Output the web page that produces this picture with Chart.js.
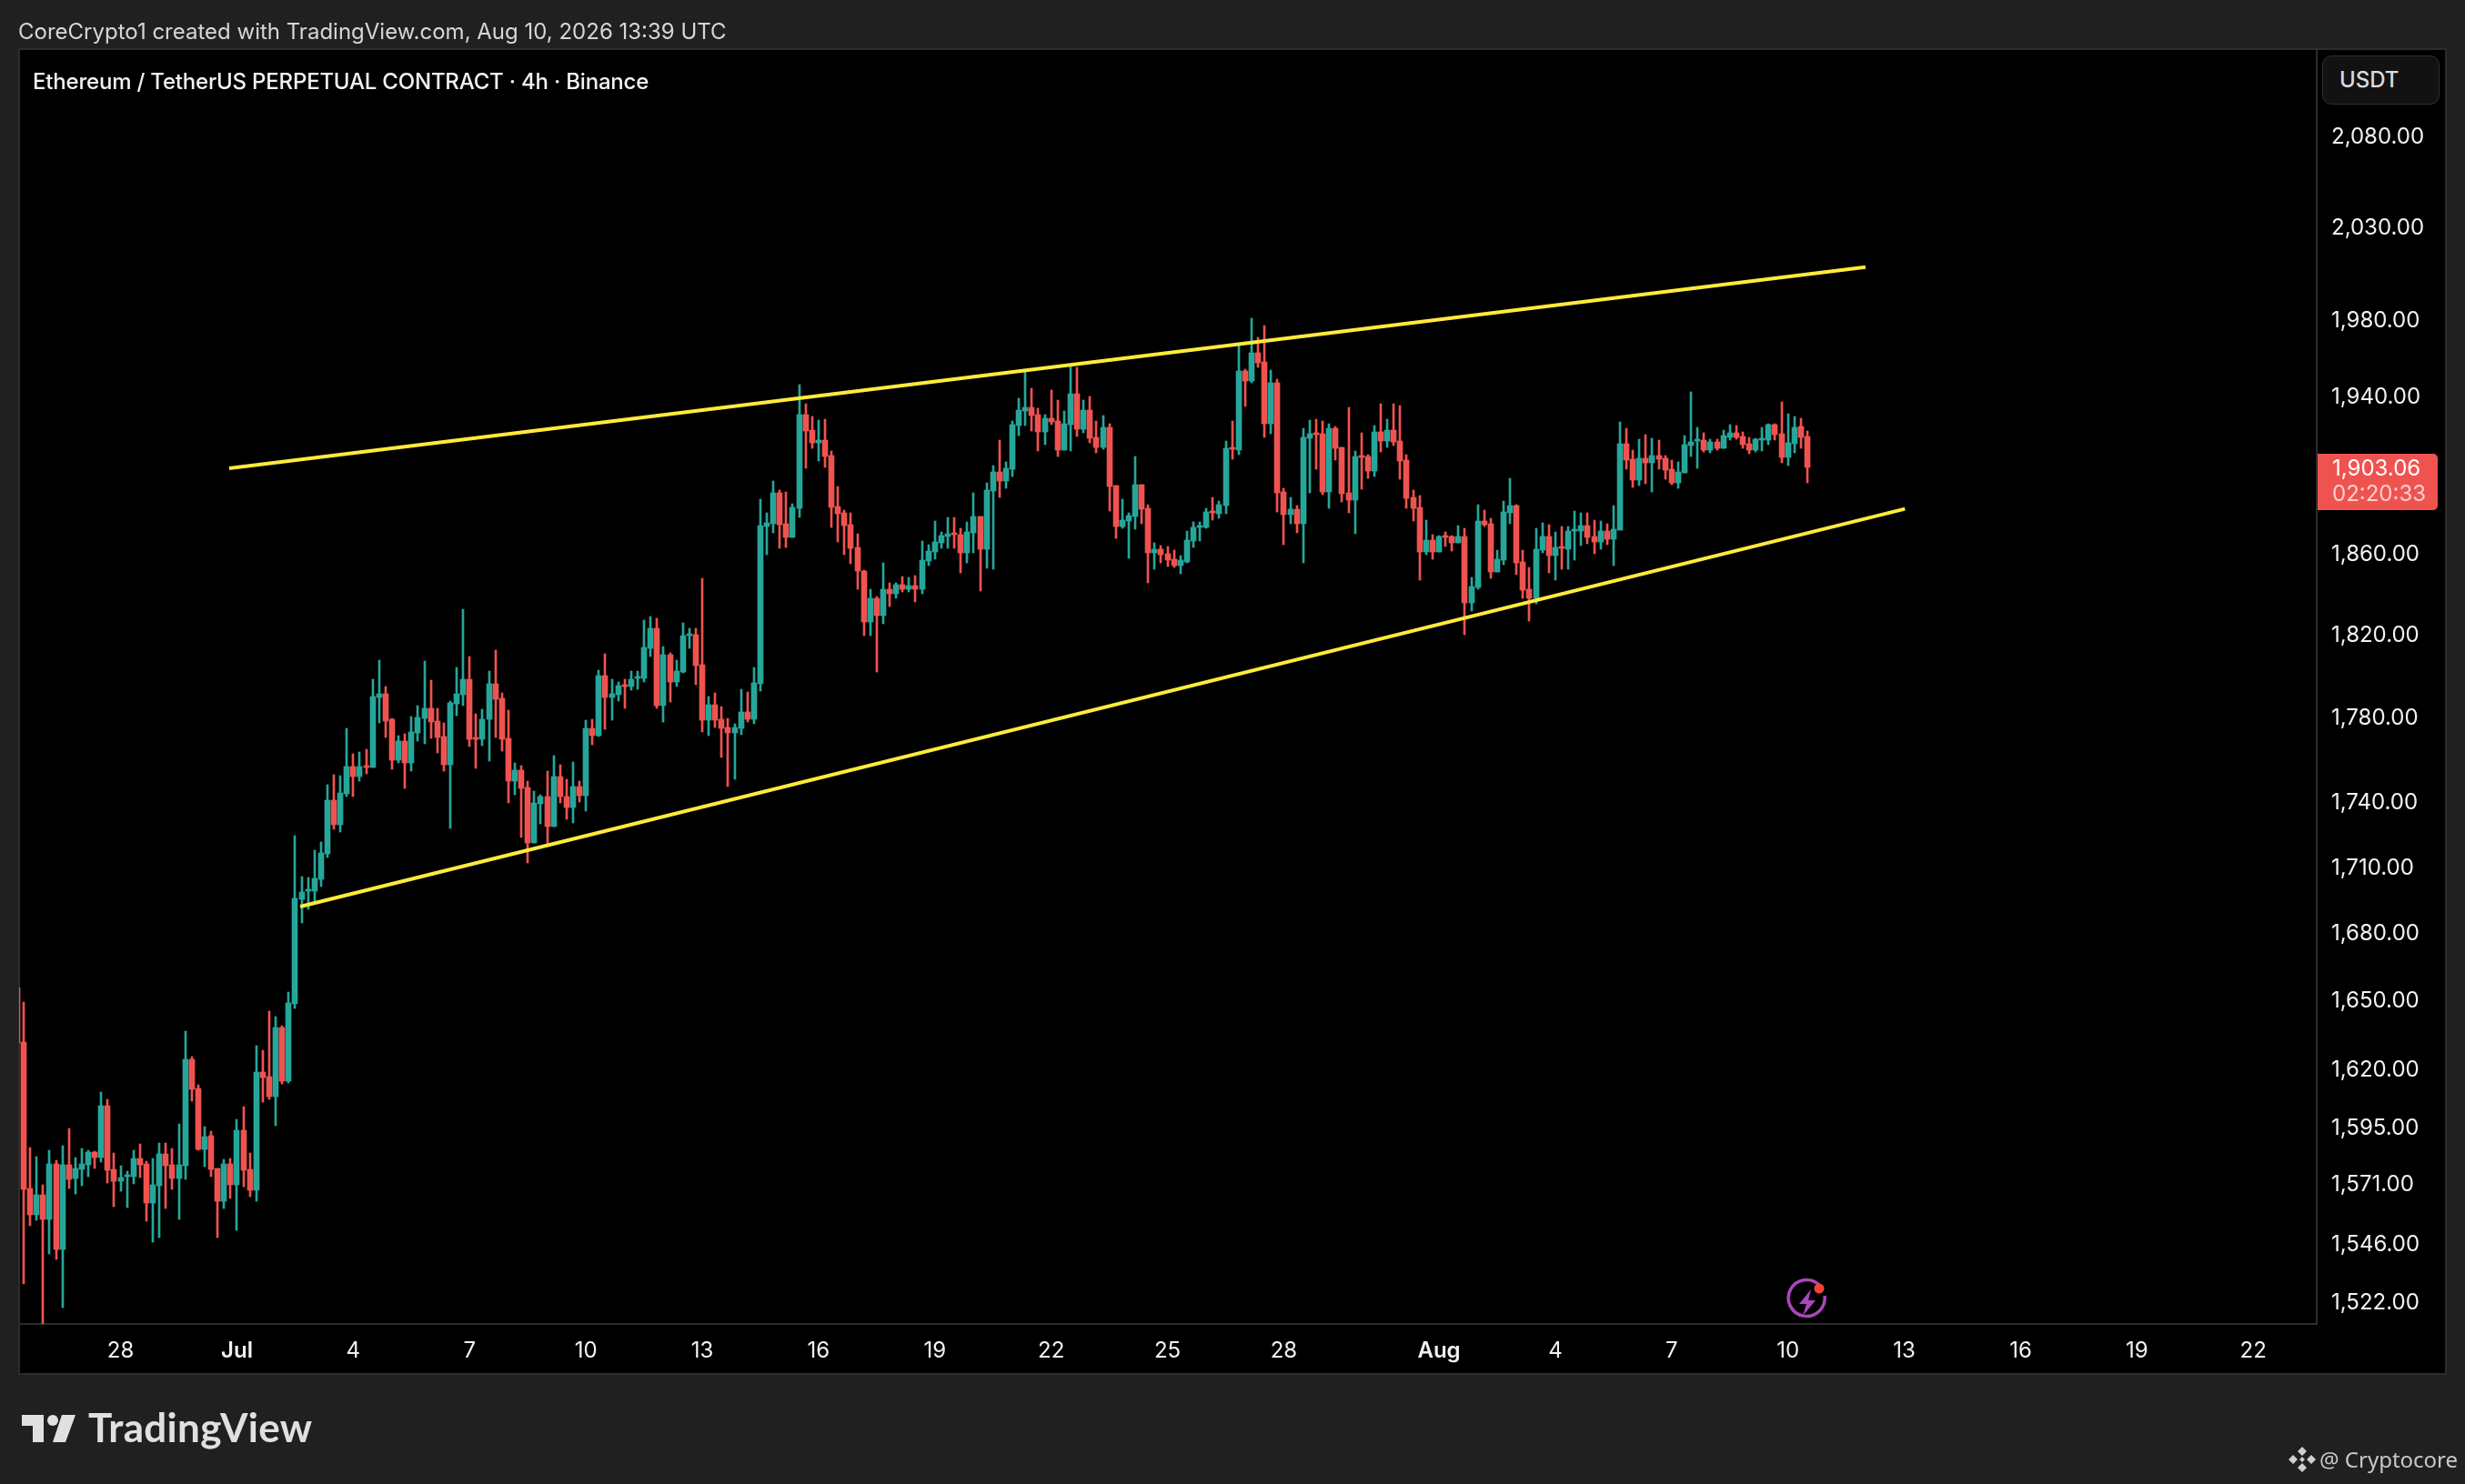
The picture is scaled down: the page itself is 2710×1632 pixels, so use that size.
<!DOCTYPE html>
<html><head><meta charset="utf-8">
<script src="https://cdn.jsdelivr.net/npm/chart.js@4"></script>
<style>
html,body{margin:0;padding:0;background:#202020;width:2710px;height:1632px;overflow:hidden}
.abs{position:absolute;white-space:nowrap}
#pane{position:absolute;left:20px;top:53px;width:2666px;height:1455px;background:#000;border:2px solid #2c2c2c}
canvas{position:absolute;left:0;top:0}
</style></head><body>
<div id="pane"></div>
<canvas id="c" width="2710" height="1632"></canvas>
<div class="abs" style="left:20px;top:20px;font:24px Inter;color:#d6d6d6;line-height:30px">CoreCrypto1 created with TradingView.com, Aug 10, 2026 13:39 UTC</div>
<div class="abs" style="left:36px;top:75px;font:500 24px Inter;letter-spacing:-.2px;color:#f2f2f2;line-height:30px">Ethereum / TetherUS PERPETUAL CONTRACT · 4h · Binance</div>
<div class="abs" style="left:2553px;top:61px;width:127px;height:52px;background:#121212;border:1.5px solid #2f2f2f;border-radius:10px"></div>
<div class="abs" style="left:2572px;top:73px;font:500 24px Inter;color:#dbdbdb;line-height:30px">USDT</div>
<div class="abs" style="left:2548px;top:499px;width:132px;height:62px;background:#ef5350;border-radius:0 5px 5px 0"></div>
<div class="abs" style="left:2564px;top:500px;font:24px Inter;color:#fff;line-height:30px">1,903.06</div>
<div class="abs" style="left:2564px;top:528px;font:24px Inter;color:#fff;opacity:.72;line-height:30px">02:20:33</div>
<svg class="abs" style="left:1960px;top:1405px" width="56" height="52" viewBox="0 0 56 52">
<path d="M40 8 A20 20 0 1 0 46 20" fill="none" stroke="#ab47bc" stroke-width="3.5"/>
<path d="M31 13 L18 29 L26 29 L22 42 L36 25 L28 25 Z" fill="#ab47bc"/>
<circle cx="40" cy="12" r="5.5" fill="#f44336"/></svg>
<svg class="abs" style="left:20px;top:1550px" width="70" height="42" viewBox="0 0 70 42">
<path d="M4 6 H28 V36 H16 V18 H4 Z M63 6 H48 L38 36 H52 Z" fill="#e0e0e0"/><circle cx="38" cy="12" r="6" fill="#e0e0e0"/></svg>
<div class="abs" style="left:97px;top:1544px;font:700 44px Lato;letter-spacing:.3px;color:#e0e0e0;line-height:50px">TradingView</div>
<svg class="abs" style="left:2516px;top:1590px" width="30" height="30" viewBox="0 0 30 30">
<path d="M15 1 L20 6 L15 11 L10 6 Z M15 19 L20 24 L15 29 L10 24 Z M5 10 L10 15 L5 20 L0 15 Z M25 10 L30 15 L25 20 L20 15 Z M15 12 L18 15 L15 18 L12 15 Z" fill="#cfcfcf"/></svg>
<div class="abs" style="left:2550px;top:1590px;font:24px 'Noto Sans';color:#c8c8c8;line-height:30px">@ Cryptocore</div>
<script>
const firstCandleIndex = -1;
const opens = [1655.6,
1631.6,1568.8,1557.8,1566.1,1555.9,1579.1,1543.4,1578.8,1572.9,1576.8,
1578.8,1584.2,1581.9,1603.9,1576.8,1571.8,1573.7,1573.7,1581.5,1579.1,
1562.7,1569.9,1583.4,1578.8,1572.9,1578.4,1624,1611.3,1585.3,1591.1,
1577.2,1563.5,1579.1,1570.3,1593.5,1576.8,1568,1618.5,1616.5,1607.8,
1638,1614.5,1648.3,1695.1,1698.9,1698.9,1704.3,1715.9,1740.6,1729.3,
1743.8,1756.6,1751.9,1757,1756.2,1789.4,1791.2,1778.9,1759.6,1768.6,
1758.3,1772.4,1779.4,1784.2,1778.1,1770.7,1757.5,1786.4,1790.7,1798.2,
1770.3,1769.4,1778.7,1796,1789,1769.9,1749.7,1754.9,1746.8,1720.9,
1739,1742.2,1728.4,1751.9,1742.5,1737.3,1747.2,1742.9,1774.6,1771.1,
1799.9,1789.4,1790.7,1795.6,1794.7,1798.6,1798.6,1813,1822.8,1785.5,
1810,1796.9,1801.7,1819.1,1819.6,1805.2,1778.5,1785.9,1778.9,1775,
1772.4,1774.6,1782.4,1778.9,1796,1873.2,1874.6,1890.2,1874.6,1867.7,
1882.4,1930.2,1922.2,1915.6,1917,1909,1883.3,1880.1,1874.2,1862.7,
1851,1825.9,1837.6,1829,1842,1839.8,1844.3,1842,1843.8,1842,
1856,1860.5,1865,1868.2,1870,1869.1,1860,1870,1878.3,1861.8,
1891.2,1900.8,1896.2,1902.2,1924.6,1932.1,1934,1930.2,1921.3,1928.3,
1926.9,1911.9,1925,1941,1922.7,1932.6,1918.5,1913.3,1923.6,1893.9,
1873.2,1876,1878.3,1894.4,1882.4,1860,1861.8,1859.6,1856.9,1853.7,
1855.5,1865.8,1872.8,1872.8,1881,1879.7,1883.8,1913.3,1911.9,1952.8,
1947.6,1962.3,1957.6,1925.5,1946.7,1890.7,1879.2,1882,1874.6,1918,
1920.8,1920.4,1890.7,1923.2,1913.3,1890.2,1886.5,1909,1908.6,1901.2,
1921.3,1916.6,1922.2,1916.6,1906.8,1887.9,1882.9,1860.5,1866.4,1860.5,
1868.6,1868.2,1865,1868.2,1835.3,1842.9,1876,1874.6,1850.6,1856.4,
1880.1,1883.8,1855.5,1842,1837.6,1861.4,1868.2,1858.7,1863.2,1861.8,
1871,1871,1873.7,1868.2,1865.4,1871,1866.8,1871.4,1915.2,1907.2,
1896.6,1907.7,1905.4,1909,1907.7,1902.2,1895.3,1900.3,1914.2,1916.6,
1917,1911.9,1916.1,1912.8,1918.5,1920.8,1918.9,1915.2,1911.9,1917,
1917,1925,1920.4,1908.1,1915.2,1924.1,1918.9];
const highs = [1655.6,
1649.1,1586.1,1582.3,1570.3,1585,1580.7,1586.9,1594.2,1581.9,1585.7,
1585,1584.6,1609.7,1606.6,1583.8,1578.4,1576,1585,1587.7,1580.3,
1581.5,1588.1,1588.1,1585.7,1596.2,1636.4,1625.2,1612.9,1595,1593.1,
1577.2,1581.1,1581.5,1598.1,1603.5,1583.8,1630,1628,1645.1,1642.7,
1638.8,1653.6,1724.3,1705.5,1705.1,1717.6,1721.4,1748,1752.7,1752.3,
1774.6,1762.6,1763.4,1764.7,1798.2,1807.3,1794.7,1779.4,1771.1,1772,
1780.3,1785.5,1806.9,1797.7,1784.2,1777.2,1787.7,1803.8,1832.2,1809.1,
1781.6,1783.7,1802.1,1812.1,1791.6,1783.3,1758.3,1757,1749.7,1745,
1743.4,1754.5,1761.7,1757.5,1750.6,1758.7,1749.7,1778.5,1778.9,1802.5,
1810.4,1798.2,1796.9,1798.2,1802.1,1802.1,1826.8,1828.7,1827.7,1813.9,
1810.8,1807.3,1825.4,1822.8,1822.8,1847.4,1789.9,1791.6,1785,1779.4,
1776.7,1793.4,1792,1803.8,1887,1880.1,1896.2,1891.6,1890.7,1884.7,
1945.8,1935.9,1929.3,1927.4,1927.9,1911.4,1893.4,1881.5,1880.1,1869.6,
1851.5,1842,1838.5,1855.1,1845.2,1845.2,1848.3,1847.9,1848.8,1865.8,
1864.1,1876,1870.5,1877.8,1877.8,1872.3,1875.5,1890.2,1878.3,1895.3,
1904,1917,1905.8,1926.9,1938.7,1952.8,1943.9,1933.5,1930.2,1942.9,
1937.8,1932.1,1956.1,1954.7,1937.8,1939.6,1926.9,1929.8,1925.5,1893.9,
1887,1880.1,1908.6,1894.4,1884.3,1865,1863.6,1863.2,1861.4,1858.7,
1870.9,1875.5,1875.5,1882.4,1887.9,1886.1,1916.6,1926.9,1966.2,1953.8,
1980.6,1970.6,1976.9,1953.3,1948.6,1892.5,1887.9,1883.8,1923.2,1927.4,
1927.9,1926.9,1925.5,1924.1,1913.3,1934,1911.4,1920.8,1909.5,1924.6,
1935.9,1927.9,1935.9,1934.9,1909.5,1891.6,1888.8,1876.5,1869.1,1868.6,
1870.5,1868.6,1873.7,1872.3,1847.9,1884.3,1881.5,1877.4,1861.4,1886.1,
1897.6,1884.3,1861.4,1852.8,1872.3,1875.1,1874.2,1870.5,1873.2,1873.2,
1881,1880.1,1880.1,1876.5,1876,1874.6,1883.8,1926.5,1923.2,1911.9,
1917.5,1919.9,1918,1917,1909,1906.8,1905.8,1919.4,1942,1923.6,
1920.8,1917.5,1917.5,1922.2,1925,1924.6,1921.3,1918.5,1918,1923.6,
1925.5,1925.5,1936.8,1930.7,1929.3,1928.3,1921.7];
const lows = [1631.2,
1529.2,1553.3,1555.5,1512,1541.5,1539.2,1519.5,1568.8,1566.5,1569.9,
1573.7,1577.2,1579.9,1571,1561.2,1567.6,1560.8,1570.6,1573.3,1555.1,
1546.5,1548.4,1560.4,1568.4,1555.9,1572.6,1605.8,1585,1578,1573.7,
1548.4,1560.4,1564.6,1551.4,1569.5,1565.4,1563.5,1605.5,1606.6,1595.4,
1613.3,1613.7,1646.3,1684.4,1690.5,1693,1700.9,1714.3,1727.2,1725.9,
1742.2,1742.5,1749.7,1753.2,1756.2,1777.2,1770.3,1755.3,1758.3,1746.3,
1754.5,1768.6,1767.3,1769.9,1763,1754.5,1727.6,1780.7,1785.5,1766,
1755.7,1766.4,1759.2,1770.3,1763.9,1739.5,1743.4,1723.4,1711.8,1720.9,
1729.7,1719.7,1728.4,1739.5,1731.8,1730.1,1739.9,1735.6,1766.9,1770.7,
1774.1,1778.5,1787.7,1784.2,1792.9,1793.4,1796.9,1809.1,1784.2,1777.6,
1787.3,1794.7,1801.2,1813,1795.6,1772.9,1771.1,1775,1760.9,1747.2,
1750.6,1771.6,1777.6,1776.7,1792.4,1859.1,1870,1862.3,1862.7,1867.7,
1877.8,1902.6,1912.8,1906.3,1903.1,1872.8,1865.5,1859.1,1854.6,1841.9,
1819.2,1819.2,1801.7,1825,1833.5,1837.6,1840.7,1840.7,1835.8,1839.8,
1853.7,1856.9,1862.3,1862.3,1862.3,1850.1,1855.1,1860,1841.2,1852.4,
1851.9,1887.9,1892.5,1898.5,1919.5,1924.6,1921.7,1911.4,1914.7,1925,
1908.6,1911.9,1911.4,1918.9,1920.8,1915.6,1910.4,1912.3,1881.1,1867.3,
1872.3,1857.2,1871.9,1874.6,1845.2,1851.9,1855.1,1853.3,1852.8,1849.7,
1855.1,1862.7,1865.8,1872.3,1876.5,1877.4,1879.7,1907.2,1909.5,1934.4,
1946.7,1954.7,1918.5,1920.4,1880.6,1864.1,1874.6,1870,1855.1,1890.2,
1902.2,1889.3,1882.4,1906.8,1885.6,1880.1,1869.6,1892.1,1897.6,1898.5,
1910.9,1913.3,1914.2,1897.1,1882.4,1876,1846.5,1859.1,1856.9,1860.5,
1863.2,1860.9,1865,1819.6,1831.3,1842,1873.2,1847.4,1850.6,1854.2,
1874.6,1849.2,1837.6,1826.3,1834.8,1860,1850.1,1846.5,1851.9,1851.9,
1856.4,1863.6,1864.5,1859.6,1861.8,1864.1,1853.7,1871.4,1902.2,1893,
1893.9,1894.8,1890.7,1902.2,1897.1,1894.4,1892.5,1900.3,1908.6,1902.6,
1910.9,1910.4,1911.9,1912.8,1917,1917.5,1912.8,1910,1910.9,1911.4,
1914.7,1917,1905.4,1904,1910.4,1912.8,1895.3];
const closes = [1631.2,
1568.4,1557.8,1566.1,1555.9,1579.1,1543.4,1578.8,1572.6,1577.2,1579.1,
1584.2,1581.9,1603.9,1576.4,1571.8,1573.4,1574.5,1581.5,1578.8,1562.7,
1570.3,1583.4,1578.4,1572.9,1578.8,1624,1610.9,1585.3,1590.8,1576.8,
1563.5,1579.1,1570.3,1593.5,1576.4,1568,1618.5,1616.1,1607.8,1638,
1614.5,1648.7,1695.5,1698.4,1699.7,1704.7,1716.4,1740.6,1729.3,1744.2,
1756.6,1751.9,1756.6,1756.2,1789.9,1791.2,1778.2,1759.6,1768.6,1758.3,
1772.9,1779.8,1784.2,1777.6,1770.3,1757.5,1786.8,1791.2,1798.2,1769.4,
1769.4,1778.9,1796,1788.5,1769.4,1749.7,1754.9,1746.3,1720.9,1739.5,
1742.2,1728.4,1751.9,1742.2,1737.3,1747.2,1742.9,1774.6,1771.1,1799.9,
1789.4,1791.2,1795.1,1794.7,1798.2,1799.5,1813.5,1822.8,1785.5,1810,
1796.9,1802.1,1819.1,1820,1804.7,1778.5,1785.9,1778.5,1774.6,1772.4,
1775,1782.4,1778.9,1796.4,1873.7,1875.1,1890.2,1874.2,1867.7,1882.9,
1930.2,1921.7,1915.6,1917,1908.6,1882.9,1879.7,1873.7,1862.3,1851,
1825.9,1837.6,1829,1842,1839.8,1844.3,1842,1843.8,1842,1856.4,
1860.9,1865.5,1868.6,1869.6,1869.1,1860,1870.5,1878.3,1861.8,1891.6,
1900.8,1896.2,1902.6,1925,1932.6,1934,1929.8,1921.3,1928.3,1926.5,
1911.9,1925.5,1941,1922.7,1932.6,1918,1913.3,1923.6,1893.4,1873.2,
1876.5,1878.7,1894.4,1882,1860,1861.8,1859.1,1856.4,1853.7,1856.4,
1866.4,1872.8,1873.7,1880.6,1880.1,1884.3,1912.8,1912.3,1952.8,1947.6,
1962.3,1957.1,1925.5,1946.7,1890.2,1879.2,1882,1874.6,1918.5,1920.4,
1919.9,1890.7,1923.2,1912.8,1889.8,1886.5,1908.6,1908.1,1901.2,1921.3,
1916.6,1922.2,1916.1,1906.3,1887.5,1882.4,1860.5,1866.4,1860.5,1868.2,
1867.7,1865,1868.2,1835.3,1843.4,1876,1874.2,1850.6,1856.9,1880.6,
1883.8,1855.1,1841.6,1837.6,1861.8,1868.2,1858.7,1862.7,1862.3,1871,
1871.9,1873.7,1867.7,1865.4,1871,1866.8,1871.9,1915.2,1906.8,1896.6,
1907.7,1905.4,1909,1907.2,1901.7,1895.3,1900.8,1914.7,1916.1,1917.5,
1911.9,1916.1,1912.8,1919.4,1920.8,1918.5,1914.7,1911.9,1917.5,1918,
1925,1919.9,1908.1,1915.6,1923.6,1918.5,1903.06];

const priceTicks = [2080,2030,1980,1940,1860,1820,1780,1740,1710,1680,1650,1620,1595,1571,1546,1522];
const timeTickIndex = [15,33,51,69,87,105,123,141,159,177,195,219,237,255,273,291,309,327,345];
const timeTickLabels = ['28','Jul','4','7','10','13','16','19','22','25','28','Aug','4','7','10','13','16','19','22'];
const monthLabels = ['Jul','Aug'];
const upperTrendX = [31.8,285], upperTrendY = [1902.6,2007.9];
const lowerTrendX = [42.8,291.1], lowerTrendY = [1691.8,1882];

const UP='#26a69a', DOWN='#ef5350';
const xs = opens.map((_,i)=>i+firstCandleIndex);
const colors = opens.map((o,i)=>closes[i]>=o?UP:DOWN);

const snap = {id:'snap',afterDatasetsUpdate(chart){
  chart.getSortedVisibleDatasetMetas().forEach(m=>{
    if(m.type!=='bar')return;
    m.data.forEach(el=>{el.x=Math.round(el.x);el.y=Math.round(el.y);el.base=Math.round(el.base);});
  });
}};
const nudgeLabels = {id:'nudgeLabels',afterLayout(chart){
  const y=chart.scales.y;
  if(y._nudged)return; y._nudged=true;
  const orig=y.drawLabels;
  y.drawLabels=function(area){const c=this.ctx;c.save();c.translate(0,1.5);orig.call(this,area);c.restore();};
}};

new Chart(document.getElementById('c'),{
  plugins:[snap,nudgeLabels],
  data:{datasets:[
    {type:'line',data:upperTrendX.map((x,i)=>({x,y:upperTrendY[i]})),borderColor:'#ffeb3b',borderWidth:4,pointRadius:0,tension:0},
    {type:'line',data:lowerTrendX.map((x,i)=>({x,y:lowerTrendY[i]})),borderColor:'#ffeb3b',borderWidth:4,pointRadius:0,tension:0},
    {type:'bar',data:xs.map((x,i)=>({x,y:[opens[i],closes[i]]})),backgroundColor:colors,barThickness:6,grouped:false,borderWidth:0},
    {type:'bar',data:xs.map((x,i)=>({x,y:[lows[i],highs[i]]})),backgroundColor:colors,barThickness:2,grouped:false,borderWidth:0}
  ]},
  options:{
    responsive:false,animation:false,devicePixelRatio:1,
    layout:{padding:{left:21,top:55,right:20,bottom:121}},
    plugins:{legend:{display:false},tooltip:{enabled:false}},
    scales:{
      x:{type:'linear',position:'bottom',offset:false,min:-0.704,max:354.82,
        grid:{display:false,drawTicks:false},border:{display:true,color:'#2c2c2c',width:2},
        afterBuildTicks:a=>{a.ticks=timeTickIndex.map(v=>({value:v}));},
        afterFit:a=>{a.height=55;},
        ticks:{autoSkip:false,maxRotation:0,minRotation:0,padding:15,color:'#f2f2f2',
          font:c=>({family:'Inter',size:24,weight:c.tick&&monthLabels.includes(timeTickLabels[timeTickIndex.indexOf(c.tick.value)])?'600':'400'}),
          callback:v=>timeTickLabels[timeTickIndex.indexOf(v)]}},
      y:{type:'logarithmic',position:'right',min:1512.8,max:2128.2,
        grid:{display:false,drawTicks:false},border:{display:true,color:'#2c2c2c',width:2},
        afterBuildTicks:a=>{a.ticks=priceTicks.map(v=>({value:v}));},
        afterFit:a=>{a.width=143;},
        ticks:{autoSkip:false,padding:16,crossAlign:'near',color:'#f2f2f2',font:{family:'Inter',size:24},
          callback:v=>v.toLocaleString('en-US',{minimumFractionDigits:2,maximumFractionDigits:2})}}
    }
  }
});
</script>
</body></html>
